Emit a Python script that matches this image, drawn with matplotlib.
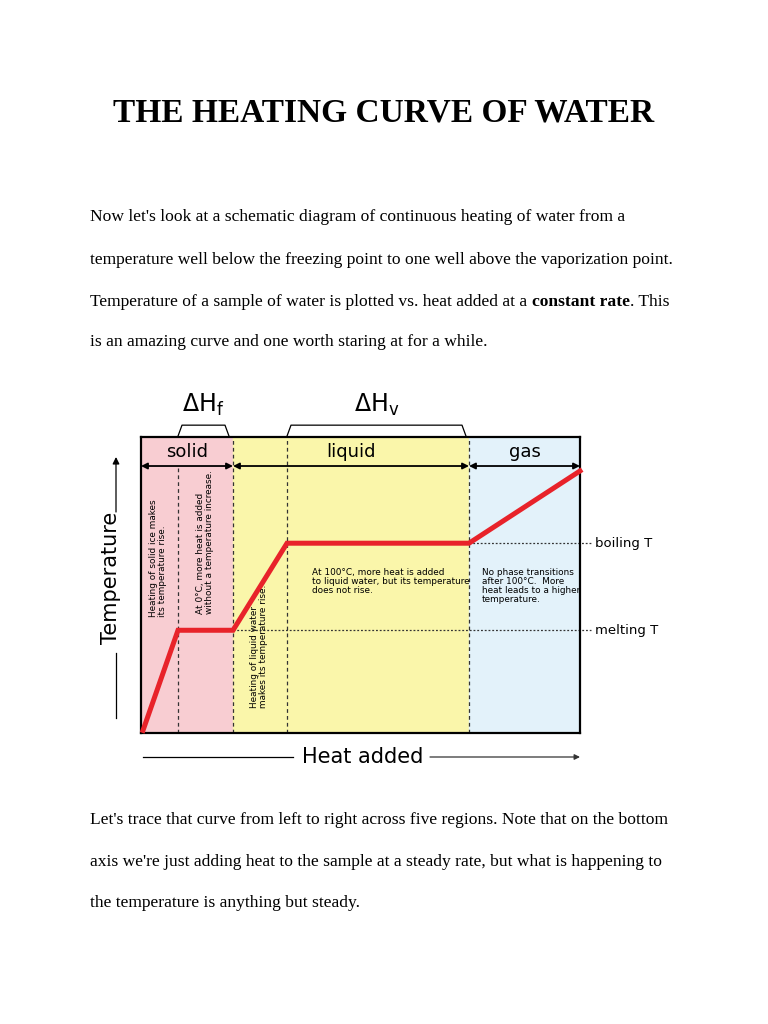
"""
Heating curve of water: page layout with title, text and schematic diagram.
"""

import matplotlib
matplotlib.use("Agg")
import matplotlib.pyplot as plt

# ================================================================
# DATA
# ================================================================

# curve: heat added (arbitrary units) vs temperature (deg C)
heat_added = [2, 37, 92, 146, 328, 439]
temperature = [-115, 0, 0, 100, 100, 183]

phase_names = ["solid", "liquid", "gas"]
phase_bounds = [0, 92, 328, 439]
phase_colors = ["#F8CDD2", "#FAF6AA", "#E3F2FA"]
divider_x = [37, 92, 146, 328]

melting_T = 0
boiling_T = 100

# enthalpy brackets (start, end, label)
bracket_spans = [(37, 88), (146, 325)]
bracket_labels = [r"$\Delta$H$_\mathrm{f}$", r"$\Delta$H$_\mathrm{v}$"]

TITLE = "THE HEATING CURVE OF WATER"
INTRO_LINES = [
    "Now let's look at a schematic diagram of continuous heating of water from a",
    "temperature well below the freezing point to one well above the vaporization point.",
]
OUTRO_LINES = [
    "Let's trace that curve from left to right across five regions. Note that on the bottom",
    "axis we're just adding heat to the sample at a steady rate, but what is happening to",
    "the temperature is anything but steady.",
]

SERIF = "Liberation Serif"
SANS = "DejaVu Sans"
W, H = 768, 1024
BODY_FS = 12.6


def page_axes(fig, z):
    """Full-page axes in pixel coords (y down)."""
    a = fig.add_axes([0, 0, 1, 1], zorder=z)
    a.set_xlim(0, W)
    a.set_ylim(H, 0)
    a.axis("off")
    a.patch.set_alpha(0)
    return a


# ================================================================
# PAGE
# ================================================================

fig = plt.figure(figsize=(W / 100, H / 100), dpi=100)
bg = page_axes(fig, 0)

bg.text(384, 113, TITLE, ha="center", va="center", fontsize=24,
        fontweight="bold", family=SERIF)

body = dict(ha="left", va="center", fontsize=BODY_FS, family=SERIF)
for y, line in zip([217, 260], INTRO_LINES):
    bg.text(90, y, line, **body)
t1 = bg.text(90, 302, "Temperature of a sample of water is plotted vs. heat added at a ",
             **body)
t2 = bg.annotate("constant rate", xy=(1, 0), xycoords=t1, va="bottom", ha="left",
                 fontsize=BODY_FS, family=SERIF, fontweight="bold")
bg.annotate(". This", xy=(1, 0), xycoords=t2, va="bottom", ha="left",
            fontsize=BODY_FS, family=SERIF)
bg.text(90, 342, "is an amazing curve and one worth staring at for a while.", **body)

for y, line in zip([820, 862, 903], OUTRO_LINES):
    bg.text(90, y, line, **body)

# ================================================================
# DIAGRAM
# ================================================================

x0, x1, ytop, ybot = 141, 580, 437, 733
ax = fig.add_axes([x0 / W, 1 - ybot / H, (x1 - x0) / W, (ybot - ytop) / H], zorder=1)
ax.set_xlim(phase_bounds[0], phase_bounds[-1])
ax.set_ylim(-118, 222)
ax.set_xticks([])
ax.set_yticks([])
for sp in ax.spines.values():
    sp.set_linewidth(1.6)

xt = ax.get_xaxis_transform()

for name, a, b, c in zip(phase_names, phase_bounds[:-1], phase_bounds[1:], phase_colors):
    ax.axvspan(a, b, color=c, zorder=0)
    ax.annotate("", xy=(b, 0.902), xytext=(a, 0.902), xycoords=xt,
                arrowprops=dict(arrowstyle="<|-|>", color="black", lw=1.3,
                                shrinkA=0, shrinkB=0, mutation_scale=9))
    ax.text((a + b) / 2, 0.948, name, transform=xt, ha="center", va="center",
            fontsize=13, family=SANS)

for i, x in enumerate(divider_x):
    top = 0.9 if i == 0 else 1.0
    ax.plot([x, x], [0, top], transform=xt, color="#333333", lw=0.9,
            ls=(0, (3, 2.5)), zorder=1)

# melting / boiling reference lines
ax.plot([phase_bounds[1], 450], [melting_T, melting_T], color="#333333", lw=0.9,
        ls=(0, (1.5, 1.5)), clip_on=False, zorder=1)
ax.plot([phase_bounds[2], 450], [boiling_T, boiling_T], color="#333333", lw=0.9,
        ls=(0, (1.5, 1.5)), clip_on=False, zorder=1)
ax.text(454, boiling_T, "boiling T", ha="left", va="center", fontsize=9.5,
        family=SANS)
ax.text(454, melting_T, "melting T", ha="left", va="center", fontsize=9.5,
        family=SANS)

ax.plot(heat_added, temperature, color="#E8232A", lw=3.6, solid_joinstyle="miter",
        zorder=3, clip_on=False)

# enthalpy brackets
for (a, b), lab in zip(bracket_spans, bracket_labels):
    ax.plot([a, a + 4, b - 4, b], [1.003, 1.04, 1.04, 1.003], transform=xt,
            color="black", lw=0.9, clip_on=False)
    ax.text((a + b) / 2, 1.108, lab, transform=xt, ha="center", va="center",
            fontsize=17, family=SANS)

# ================================================================
# NOTES AND OUTER LABELS (page pixel coords, overlay on diagram)
# ================================================================

fg = page_axes(fig, 2)

note = dict(fontsize=6.4, family=SANS, linespacing=1.0)
fg.text(158, 617, "Heating of solid ice makes\nits temperature rise.",
        rotation=90, ha="center", va="bottom", multialignment="left", **note)
fg.text(205, 614, "At 0\u00b0C, more heat is added\nwithout a temperature increase.",
        rotation=90, ha="center", va="bottom", multialignment="left", **note)
fg.text(259, 708, "Heating of liquid water\nmakes its temperature rise.",
        rotation=90, ha="center", va="bottom", multialignment="left", **note)
fg.text(312, 568, "At 100\u00b0C, more heat is added\nto liquid water, but its temperature\n"
        "does not rise.", ha="left", va="top", **note)
fg.text(482, 568, "No phase transitions\nafter 100\u00b0C.  More\nheat leads to a higher\n"
        "temperature.", ha="left", va="top", **note)

# y label with arrow
bg.text(111, 578, "Temperature", rotation=90, ha="center", va="center",
        fontsize=15, family=SANS)
bg.annotate("", xy=(116, 457), xytext=(116, 512),
            arrowprops=dict(arrowstyle="-|>", color="black", lw=0.9,
                            shrinkA=0, shrinkB=0, mutation_scale=10))
bg.plot([116, 116], [653, 718], color="black", lw=0.9)

# x label with arrow
bg.text(363, 757, "Heat added", ha="center", va="center", fontsize=15, family=SANS)
bg.plot([143, 293], [757, 757], color="black", lw=0.9)
bg.annotate("", xy=(580, 757), xytext=(430, 757),
            arrowprops=dict(arrowstyle="-|>", color="#333333", lw=0.9,
                            shrinkA=0, shrinkB=0, mutation_scale=8))

fig.savefig("out.png", dpi=100)
